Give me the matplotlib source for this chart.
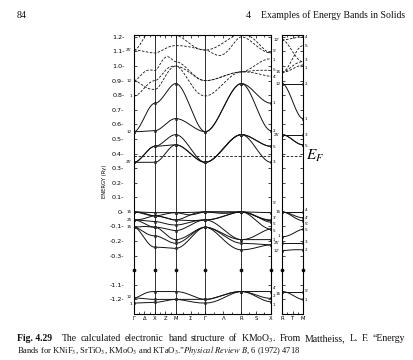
import numpy as np
import matplotlib.pyplot as plt

plt.rcParams["font.family"] = ["DejaVu Sans"]
plt.rcParams["mathtext.fontset"] = "stix"

W, H = 413, 360

# k path: segment lengths in units of 2pi/a
PATH_LABELS = ["Γ", "Δ", "X", "Z", "M", "Σ", "Γ", "Λ", "R", "S", "X"]
SIDE_LABELS = ["R", "T", "M"]
SEG_LEN = [1.0, 1.0, np.sqrt(2), np.sqrt(3), np.sqrt(2)]

E_FERMI = 0.385
LOW_SHIFT = 0.6      # broken axis: -1.1 Ry sits where -0.5 would be
TICK_E = [1.2, 1.1, 1.0, 0.9, 0.8, 0.7, 0.6, 0.5, 0.4, 0.3, 0.2, 0.1,
          0.0, -0.1, -0.2, -0.3, -1.1, -1.2]

# energies (Ry) read at  G  D  X  Z  M  S  G  L  R  S  X
SOLID = [
    # t2g (Mo d)
    [0.34, 0.395, 0.45, 0.49, 0.53, 0.435, 0.34, 0.435, 0.53, 0.49, 0.45],
    [0.34, 0.395, 0.45, 0.455, 0.46, 0.40, 0.34, 0.435, 0.53, 0.49, 0.45],
    [0.34, 0.34, 0.34, 0.40, 0.46, 0.40, 0.34, 0.435, 0.53, 0.435, 0.34],
    # eg
    [0.55, 0.553, 0.557, 0.60, 0.64, 0.595, 0.55, 0.715, 0.88, 0.72, 0.557],
    [0.55, 0.65, 0.745, 0.81, 0.88, 0.715, 0.55, 0.715, 0.88, 0.81, 0.745],
    # O 2p
    [0.0, -0.003, -0.005, -0.005, -0.005, -0.003, 0.0, 0.0, 0.0, -0.003, -0.005],
    [0.0, -0.01, -0.027, -0.015, -0.005, -0.02, 0.0, 0.0, 0.0, -0.03, -0.055],
    [0.0, -0.015, -0.027, -0.04, -0.055, -0.02, 0.0, -0.01, 0.0, -0.03, -0.06],
    [-0.055, -0.045, -0.027, -0.04, -0.055, -0.06, -0.055, -0.03, 0.0, -0.03, -0.07],
    [-0.055, -0.06, -0.066, -0.08, -0.09, -0.07, -0.055, -0.03, 0.0, -0.06, -0.118],
    [-0.055, -0.08, -0.105, -0.115, -0.128, -0.09, -0.055, -0.12, -0.19, -0.16, -0.118],
    [-0.105, -0.10, -0.105, -0.15, -0.19, -0.15, -0.105, -0.15, -0.19, -0.19, -0.19],
    [-0.105, -0.14, -0.164, -0.19, -0.215, -0.16, -0.105, -0.16, -0.215, -0.22, -0.226],
    [-0.105, -0.18, -0.242, -0.245, -0.25, -0.18, -0.105, -0.19, -0.26, -0.245, -0.226],
    # O 2s
    [-1.19, -1.16, -1.146, -1.146, -1.146, -1.17, -1.20, -1.17, -1.146, -1.146, -1.146],
    [-1.19, -1.195, -1.20, -1.20, -1.20, -1.20, -1.20, -1.17, -1.146, -1.17, -1.193],
    [-1.225, -1.222, -1.22, -1.21, -1.20, -1.215, -1.225, -1.19, -1.146, -1.18, -1.216],
]
DASHED = [
    [1.11, 1.10, 1.09, 1.12, 1.14, 1.13, 1.11, 1.08, 1.20, 1.14, 1.09],
    [1.11, 1.20, 1.28, 1.25, 1.21, 1.15, 1.11, 1.16, 1.22, 1.17, 1.09],
    [0.90, 0.96, 0.97, 1.06, 1.03, 0.96, 0.90, 0.93, 0.96, 1.01, 1.05],
    [0.90, 0.86, 0.84, 0.93, 1.00, 0.95, 0.90, 0.93, 0.96, 0.95, 0.93],
    [0.795, 0.85, 0.90, 0.97, 1.00, 0.88, 0.795, 0.88, 0.96, 0.97, 0.97],
]
# side panel, read at R T M
SIDE_SOLID = [
    [0.53, 0.53, 0.53], [0.53, 0.495, 0.46], [0.53, 0.495, 0.46],
    [0.88, 0.76, 0.64], [0.88, 0.88, 0.88],
    [0.0, 0.0, 0.0], [0.0, -0.02, -0.04], [0.0, -0.03, -0.06],
    [-0.17, -0.15, -0.12], [-0.215, -0.215, -0.215], [-0.265, -0.26, -0.26],
    [-1.146, -1.146, -1.146], [-1.146, -1.17, -1.20],
]
SIDE_DASHED = [
    [1.18, 1.10, 1.03], [1.18, 1.19, 1.20], [0.957, 1.05, 1.14],
    [0.957, 0.98, 1.007], [0.957, 1.0, 1.03],
]

# symmetry labels next to the lines
LBL_GAMMA = [("25'", 1.11), ("12", 0.90), ("1", 0.795), ("12", 0.55), ("25'", 0.34),
             ("15", 0.0), ("25", -0.055), ("15", -0.105), ("12", -1.185), ("1", -1.23)]
LBL_X = [("5'", 1.10), ("1", 1.045), ("5", 0.975), ("4'", 0.925), ("1", 0.745), ("2", 0.557),
         ("5", 0.447), ("3", 0.34), ("5'", 0.06), ("3'", -0.04), ("5", -0.085),
         ("5", -0.13), ("1", -0.19), ("4'", -1.125), ("2", -1.18), ("1", -1.235)]
LBL_R = [("12'", 1.18), ("15", 0.957), ("12", 0.88), ("25'", 0.53), ("15", 0.0),
         ("1", -0.165), ("25'", -0.215), ("12'", -0.27), ("15", -1.165)]
LBL_M = [("4", 1.20), ("5", 1.14), ("3", 1.04), ("1", 0.99), ("2", 0.88), ("1", 0.64),
         ("3", 0.53), ("5", 0.455), ("4", 0.01), ("4'", -0.04), ("5'", -0.08),
         ("5", -0.125), ("3", -0.205), ("2", -0.26), ("5'", -1.14), ("1", -1.205)]

CAPTION_1 = "The calculated electronic band structure of KMoO$_3$. From Mattheiss, L. F. \u201cEnergy"
CAPTION_2 = ("Bands for KNiF$_3$, SrTiO$_3$, KMoO$_3$ and KTaO$_3$.\u201d"
             "$\\mathit{Physical\\ Review\\ B}$, 6 (1972) 4718")


def y_of(e):
    e = np.asarray(e, dtype=float)
    return np.where(e < -0.6, e + LOW_SHIFT, e)


def curve(ks, es, n=40):
    # smooth curve through symmetry-point values and segment midpoint values
    xs, ys = [], []
    s = np.linspace(0, 1, n)
    h = 3 * s**2 - 2 * s**3
    for i in range(0, len(ks) - 2, 2):
        e0, em, e1 = es[i], es[i + 1], es[i + 2]
        c = 16 * (em - 0.5 * (e0 + e1))
        xs.append(ks[i] + (ks[i + 2] - ks[i]) * s)
        ys.append(e0 + (e1 - e0) * h + c * s**2 * (1 - s) ** 2)
    return np.concatenate(xs), y_of(np.concatenate(ys))


k_sym = np.concatenate([[0], np.cumsum(SEG_LEN)])
k_nodes = np.sort(np.concatenate([k_sym, 0.5 * (k_sym[1:] + k_sym[:-1])]))
k_side = np.array([0.0, 0.5, 1.0])

fig = plt.figure(figsize=(W / 100, H / 100), dpi=100)
bottom, height = 1 - 314 / H, 279 / H
ax = fig.add_axes([134 / W, bottom, 137 / W, height])
ax2 = fig.add_axes([282 / W, bottom, 21 / W, height])
ylim = (-0.70, 1.213)

for a, ks, solid, dashed in [(ax, k_nodes, SOLID, DASHED), (ax2, k_side, SIDE_SOLID, SIDE_DASHED)]:
    for es in solid:
        x, y = curve(ks, es)
        a.plot(x, y, color="#111111", lw=0.7)
        a.plot(ks[::2], y_of(es[::2]), "o", ms=1.6, mfc="white", mec="#111111", mew=0.5)
    for es in dashed:
        x, y = curve(ks, es)
        a.plot(x, y, color="#111111", lw=0.6, dashes=(3, 1.8))
    a.axhline(E_FERMI, color="#111111", lw=0.6, dashes=(3, 2))
    a.set_ylim(*ylim)
    a.set_xlim(ks[0], ks[-1])
    for sp in a.spines.values():
        sp.set_linewidth(0.8)
    a.set_yticks(y_of(TICK_E))
    a.tick_params(axis="y", direction="in", left=True, right=True, length=2, width=0.5)
    a.tick_params(axis="x", which="both", direction="in", top=True, width=0.5, length=2, pad=1.5)
    a.tick_params(axis="x", which="minor", length=1.4)

for k in k_sym[1:-1]:
    ax.axvline(k, color="#111111", lw=0.6)
ax.plot(k_sym, [-0.4] * len(k_sym), "o", ms=1.7, color="#111111", clip_on=False)
ax2.plot([0, 1], [-0.4, -0.4], "o", ms=1.7, color="#111111", clip_on=False)

ax.set_yticklabels([("0" if e == 0 else f"{e:.1f}") + "-" for e in TICK_E], fontsize=4.6)
ax.tick_params(axis="y", pad=7)
ax2.set_yticklabels([])
ax.set_xticks(k_nodes)
ax.set_xticklabels(PATH_LABELS, fontsize=3.8)
ax.set_xticks(np.concatenate([np.linspace(k_sym[i], k_sym[i + 1], 5)[[1, 3]] for i in range(5)]),
              minor=True)
ax2.set_xticks(k_side)
ax2.set_xticklabels(SIDE_LABELS, fontsize=3.8)
ax2.set_xticks([0.25, 0.75], minor=True)

# band symmetry labels
lkw = dict(fontsize=3.0, va="center")
for t, e in LBL_GAMMA:
    ax.annotate(t, (0, y_of(e)), xytext=(-1.5, 0), textcoords="offset points", ha="right", **lkw)
for t, e in LBL_X:
    ax.annotate(t, (k_sym[-1], y_of(e)), xytext=(1.2, 0), textcoords="offset points", ha="left", **lkw)
for t, e in LBL_R:
    ax2.annotate(t, (0, y_of(e)), xytext=(-1.2, 0), textcoords="offset points", ha="right", **lkw)
for t, e in LBL_M:
    ax2.annotate(t, (1, y_of(e)), xytext=(1.5, 0), textcoords="offset points", ha="left", **lkw)

fig.text(104 / W, 1 - 181 / H, "ENERGY (Ry)", rotation=90, fontsize=3.8, ha="center", va="center")
fig.text(306 / W, 1 - 156 / H, r"$E_F$", fontsize=11, ha="left", va="center")

serif = dict(family="Liberation Serif", color="#111111")
fig.text(17 / W, 1 - 15 / H, "84", fontsize=7, ha="left", va="center", **serif)
fig.text(405 / W, 1 - 15 / H, "4    Examples of Energy Bands in Solids", fontsize=7,
         ha="right", va="center", **serif)
fig.text(17 / W, 1 - 338.5 / H, "Fig. 4.29", fontsize=7, weight="bold", ha="left", va="center", **serif)

# first caption line is justified between x=62 and x=405
renderer = fig.canvas.get_renderer()
words = CAPTION_1.split(" ")
texts = [fig.text(0, 1 - 338.5 / H, w, fontsize=7.0, ha="left", va="center", **serif) for w in words]
widths = [t.get_window_extent(renderer).width for t in texts]
gap = (405 - 62 - sum(widths)) / (len(words) - 1)
x = 62.0
for t, w in zip(texts, widths):
    t.set_x(x / W)
    x += w + gap
fig.text(17 / W, 1 - 350.5 / H, CAPTION_2, fontsize=6.1, ha="left", va="center", **serif)

fig.savefig("out.png", dpi=100)
